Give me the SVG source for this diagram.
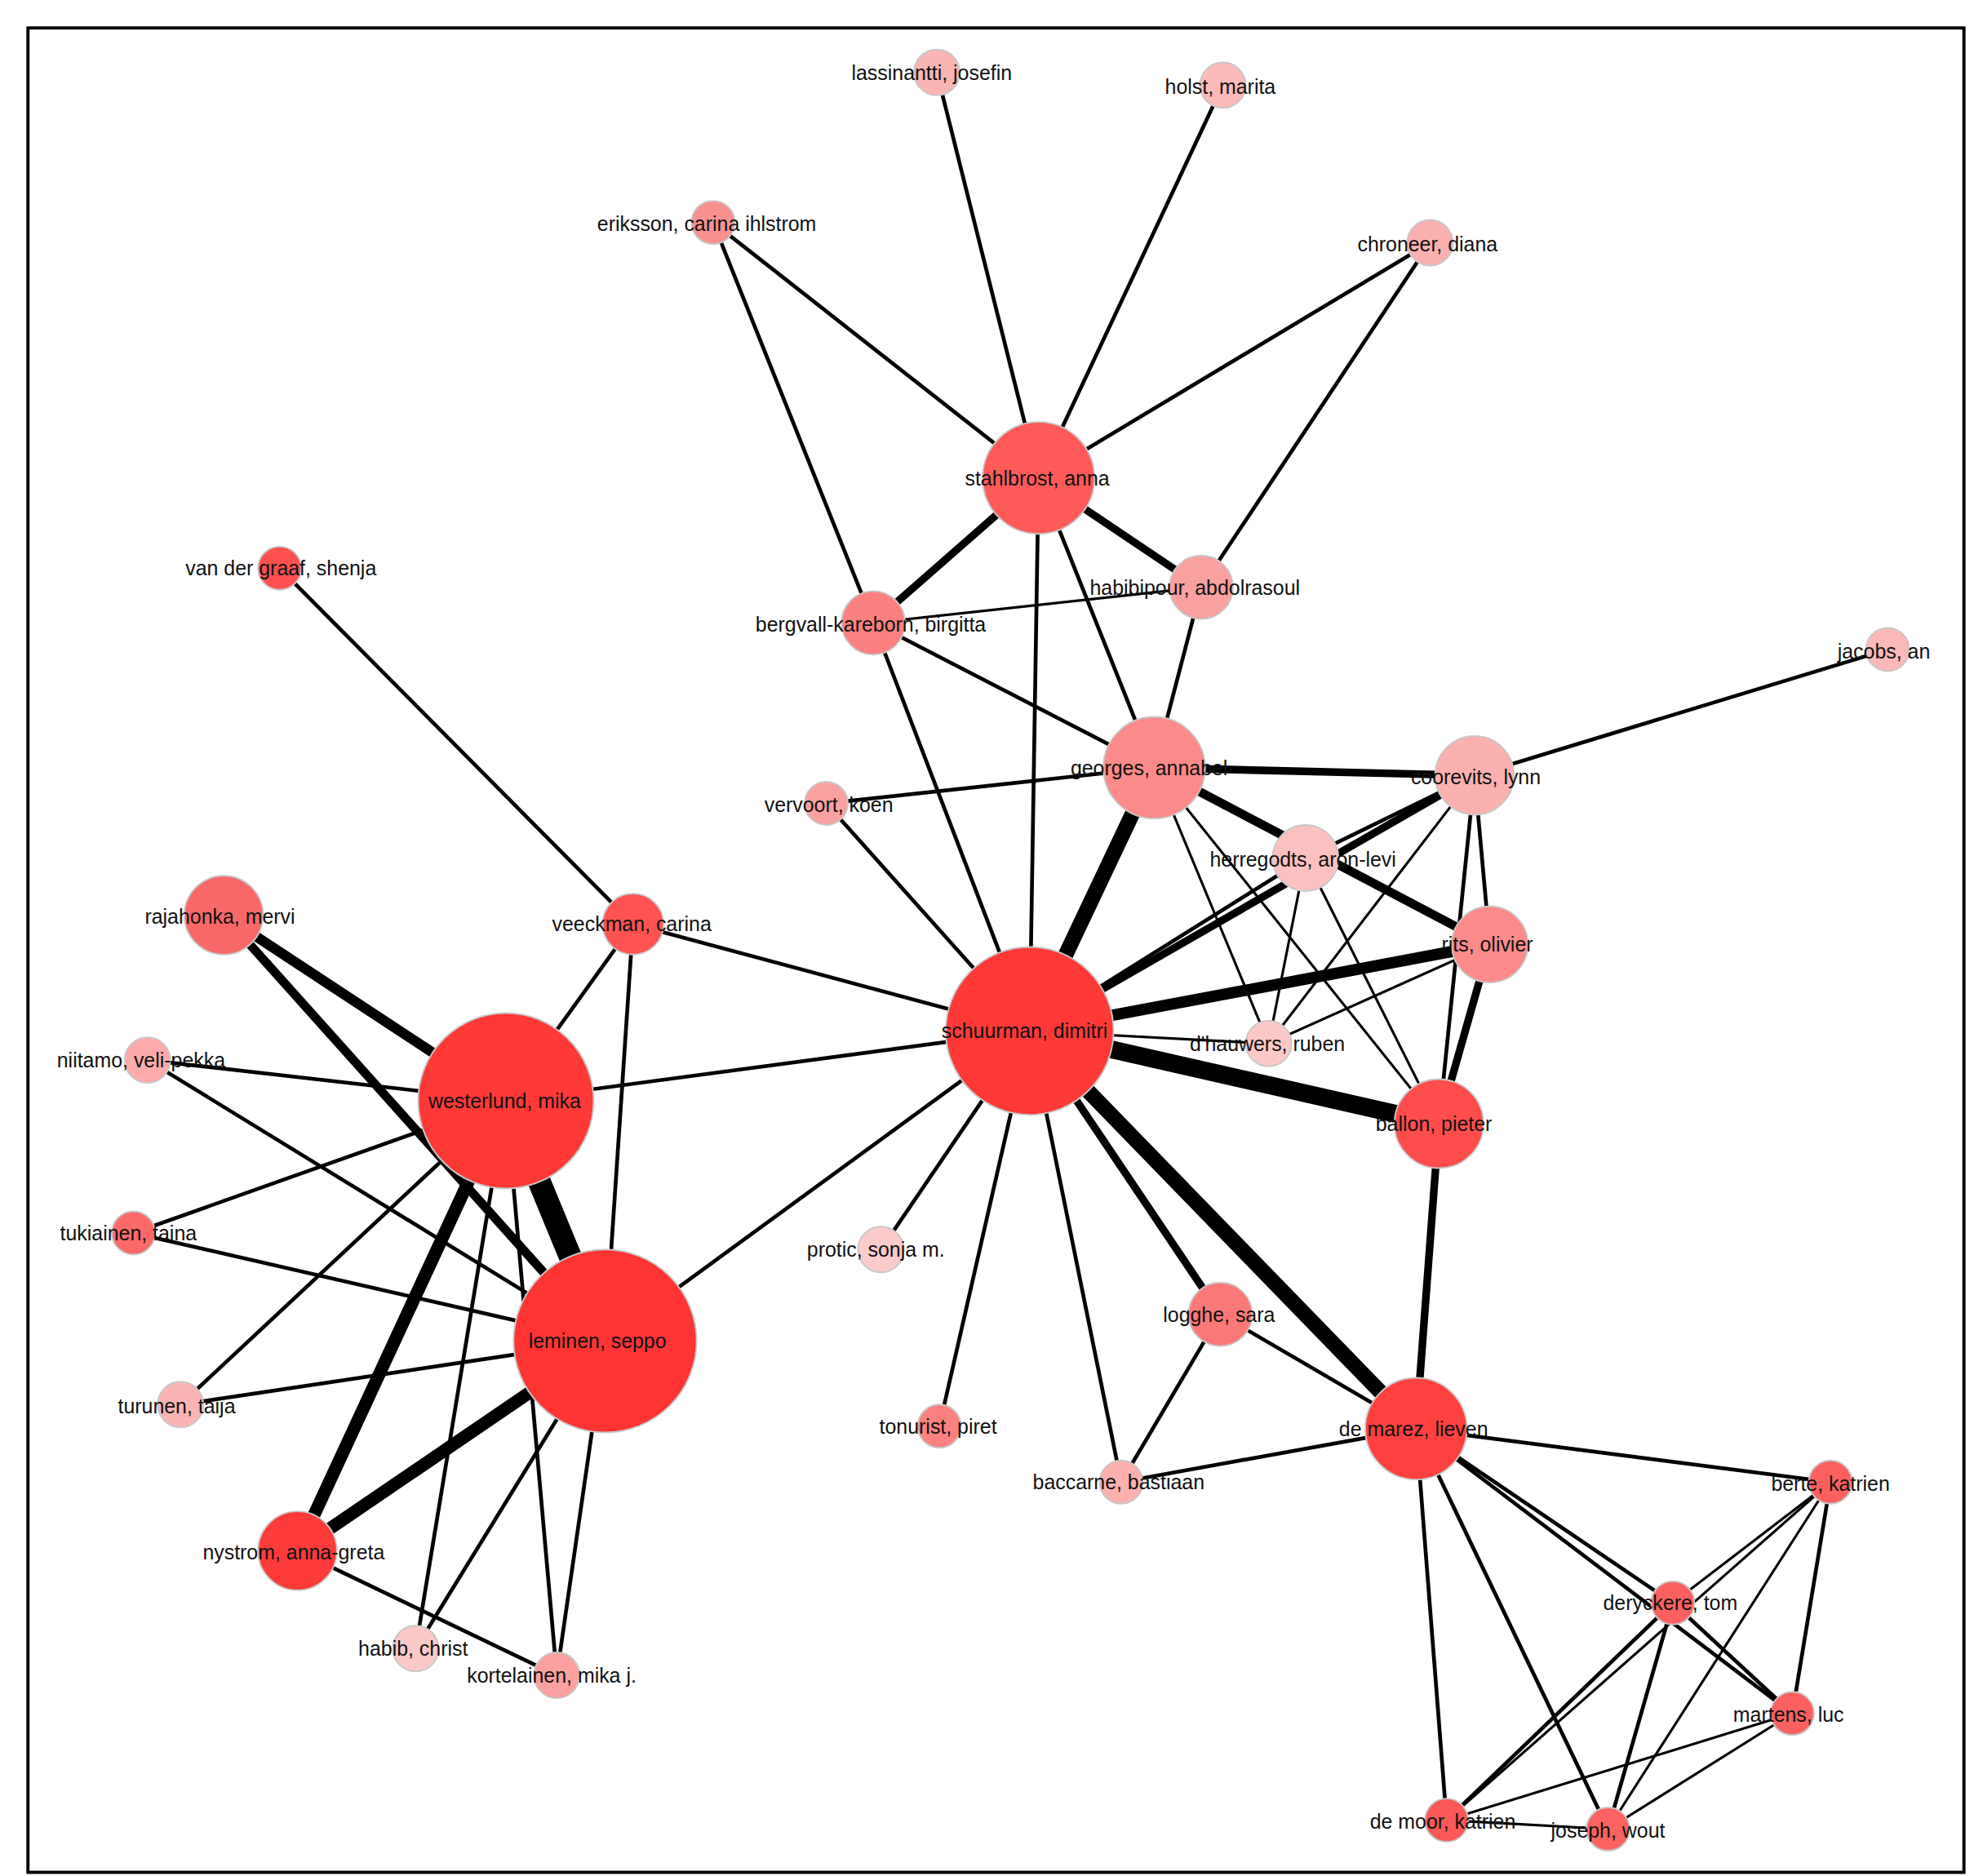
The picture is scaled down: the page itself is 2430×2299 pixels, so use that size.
<svg xmlns="http://www.w3.org/2000/svg" width="2430" height="2299" viewBox="0 0 2430 2299">
<style>
circle{stroke:#c8c8c8;stroke-width:1.2}
text{font-family:"Liberation Sans",Arial,sans-serif;font-size:16px;fill:#111;text-anchor:middle;dominant-baseline:central}
#edges line{stroke:#000;stroke-linecap:butt}
</style>
<rect width="2430" height="2299" fill="#fff"/>
<g transform="scale(1.5577)">
<rect x="22" y="22" width="1523" height="1451" fill="none" stroke="#000" stroke-width="2.5"/>
<g id="edges">
<line x1="817" y1="376" x2="737" y2="57" stroke-width="3"/>
<line x1="817" y1="376" x2="962" y2="67" stroke-width="3"/>
<line x1="817" y1="376" x2="561" y2="175" stroke-width="3"/>
<line x1="817" y1="376" x2="1125" y2="191" stroke-width="3"/>
<line x1="817" y1="376" x2="945" y2="462" stroke-width="6"/>
<line x1="817" y1="376" x2="687" y2="490" stroke-width="6"/>
<line x1="817" y1="376" x2="810" y2="811" stroke-width="3"/>
<line x1="817" y1="376" x2="908" y2="604" stroke-width="3"/>
<line x1="561" y1="175" x2="687" y2="490" stroke-width="3"/>
<line x1="1125" y1="191" x2="945" y2="462" stroke-width="3"/>
<line x1="945" y1="462" x2="687" y2="490" stroke-width="2"/>
<line x1="945" y1="462" x2="908" y2="604" stroke-width="3"/>
<line x1="687" y1="490" x2="908" y2="604" stroke-width="3"/>
<line x1="687" y1="490" x2="810" y2="811" stroke-width="3"/>
<line x1="220" y1="447" x2="498" y2="727" stroke-width="3"/>
<line x1="1485" y1="511" x2="1160" y2="610" stroke-width="3"/>
<line x1="908" y1="604" x2="1160" y2="610" stroke-width="6"/>
<line x1="908" y1="604" x2="650" y2="632" stroke-width="3"/>
<line x1="908" y1="604" x2="810" y2="811" stroke-width="12"/>
<line x1="908" y1="604" x2="1172" y2="743" stroke-width="7"/>
<line x1="908" y1="604" x2="1132" y2="884" stroke-width="2"/>
<line x1="908" y1="604" x2="998" y2="821" stroke-width="2"/>
<line x1="1160" y1="610" x2="1027" y2="675" stroke-width="3"/>
<line x1="1160" y1="610" x2="810" y2="811" stroke-width="6"/>
<line x1="1160" y1="610" x2="1172" y2="743" stroke-width="3"/>
<line x1="1160" y1="610" x2="1132" y2="884" stroke-width="3"/>
<line x1="1160" y1="610" x2="998" y2="821" stroke-width="2"/>
<line x1="1027" y1="675" x2="810" y2="811" stroke-width="3"/>
<line x1="1027" y1="675" x2="998" y2="821" stroke-width="2"/>
<line x1="1027" y1="675" x2="1132" y2="884" stroke-width="2"/>
<line x1="1172" y1="743" x2="810" y2="811" stroke-width="9"/>
<line x1="1172" y1="743" x2="1132" y2="884" stroke-width="6"/>
<line x1="1172" y1="743" x2="998" y2="821" stroke-width="2"/>
<line x1="810" y1="811" x2="998" y2="821" stroke-width="2"/>
<line x1="810" y1="811" x2="1132" y2="884" stroke-width="14"/>
<line x1="810" y1="811" x2="650" y2="632" stroke-width="3"/>
<line x1="810" y1="811" x2="498" y2="727" stroke-width="3"/>
<line x1="810" y1="811" x2="398" y2="866" stroke-width="3"/>
<line x1="810" y1="811" x2="476" y2="1055" stroke-width="3"/>
<line x1="810" y1="811" x2="693" y2="983" stroke-width="3"/>
<line x1="810" y1="811" x2="739" y2="1122" stroke-width="3"/>
<line x1="810" y1="811" x2="882" y2="1166" stroke-width="3"/>
<line x1="810" y1="811" x2="960" y2="1034" stroke-width="6"/>
<line x1="810" y1="811" x2="1114" y2="1124" stroke-width="12"/>
<line x1="1132" y1="884" x2="1114" y2="1124" stroke-width="6"/>
<line x1="960" y1="1034" x2="1114" y2="1124" stroke-width="3"/>
<line x1="960" y1="1034" x2="882" y2="1166" stroke-width="3"/>
<line x1="882" y1="1166" x2="1114" y2="1124" stroke-width="3"/>
<line x1="1114" y1="1124" x2="1440" y2="1166" stroke-width="3"/>
<line x1="1114" y1="1124" x2="1316" y2="1261" stroke-width="3"/>
<line x1="1114" y1="1124" x2="1410" y2="1348" stroke-width="3"/>
<line x1="1114" y1="1124" x2="1138" y2="1432" stroke-width="3"/>
<line x1="1114" y1="1124" x2="1265" y2="1439" stroke-width="3"/>
<line x1="1440" y1="1166" x2="1316" y2="1261" stroke-width="2"/>
<line x1="1440" y1="1166" x2="1138" y2="1432" stroke-width="2"/>
<line x1="1440" y1="1166" x2="1410" y2="1348" stroke-width="3"/>
<line x1="1440" y1="1166" x2="1265" y2="1439" stroke-width="2"/>
<line x1="1316" y1="1261" x2="1410" y2="1348" stroke-width="3"/>
<line x1="1316" y1="1261" x2="1138" y2="1432" stroke-width="3"/>
<line x1="1316" y1="1261" x2="1265" y2="1439" stroke-width="3"/>
<line x1="1410" y1="1348" x2="1138" y2="1432" stroke-width="2"/>
<line x1="1410" y1="1348" x2="1265" y2="1439" stroke-width="2"/>
<line x1="1138" y1="1432" x2="1265" y2="1439" stroke-width="2"/>
<line x1="176" y1="720" x2="398" y2="866" stroke-width="8"/>
<line x1="176" y1="720" x2="476" y2="1055" stroke-width="7"/>
<line x1="398" y1="866" x2="476" y2="1055" stroke-width="18"/>
<line x1="398" y1="866" x2="498" y2="727" stroke-width="3"/>
<line x1="398" y1="866" x2="116" y2="834" stroke-width="3"/>
<line x1="398" y1="866" x2="105" y2="970" stroke-width="3"/>
<line x1="398" y1="866" x2="142" y2="1105" stroke-width="3"/>
<line x1="398" y1="866" x2="234" y2="1220" stroke-width="10"/>
<line x1="398" y1="866" x2="327" y2="1297" stroke-width="3"/>
<line x1="398" y1="866" x2="438" y2="1318" stroke-width="3"/>
<line x1="476" y1="1055" x2="498" y2="727" stroke-width="3"/>
<line x1="476" y1="1055" x2="116" y2="834" stroke-width="3"/>
<line x1="476" y1="1055" x2="105" y2="970" stroke-width="3"/>
<line x1="476" y1="1055" x2="142" y2="1105" stroke-width="3"/>
<line x1="476" y1="1055" x2="234" y2="1220" stroke-width="10"/>
<line x1="476" y1="1055" x2="327" y2="1297" stroke-width="3"/>
<line x1="476" y1="1055" x2="438" y2="1318" stroke-width="3"/>
<line x1="234" y1="1220" x2="438" y2="1318" stroke-width="3"/>
</g>
<g id="n-lassinantti"><circle cx="737" cy="57" r="18" fill="#f9b4b4"/><text x="733" y="57">lassinantti, josefin</text></g>
<g id="n-holst"><circle cx="962" cy="67" r="18" fill="#fbbaba"/><text x="960" y="68">holst, marita</text></g>
<g id="n-eriksson"><circle cx="561" cy="175" r="17" fill="#f99090"/><text x="556" y="176">eriksson, carina ihlstrom</text></g>
<g id="n-chroneer"><circle cx="1125" cy="191" r="18" fill="#fbb0b0"/><text x="1123" y="192">chroneer, diana</text></g>
<g id="n-stahlbrost"><circle cx="817" cy="376" r="44" fill="#ff5a5a"/><text x="816" y="376">stahlbrost, anna</text></g>
<g id="n-vandergraaf"><circle cx="220" cy="447" r="17" fill="#ff5050"/><text x="221" y="447">van der graaf, shenja</text></g>
<g id="n-habibipour"><circle cx="945" cy="462" r="25" fill="#f9a0a0"/><text x="940" y="462">habibipour, abdolrasoul</text></g>
<g id="n-bergvall"><circle cx="687" cy="490" r="25" fill="#fb8080"/><text x="685" y="491">bergvall-kareborn, birgitta</text></g>
<g id="n-jacobs"><circle cx="1485" cy="511" r="17" fill="#fbb8b8"/><text x="1482" y="512">jacobs, an</text></g>
<g id="n-georges"><circle cx="908" cy="604" r="40" fill="#fb8a8a"/><text x="904" y="604">georges, annabel</text></g>
<g id="n-coorevits"><circle cx="1160" cy="610" r="31" fill="#fbb0b0"/><text x="1161" y="611">coorevits, lynn</text></g>
<g id="n-vervoort"><circle cx="650" cy="632" r="17" fill="#f9a0a0"/><text x="652" y="633">vervoort, koen</text></g>
<g id="n-herregodts"><circle cx="1027" cy="675" r="26" fill="#fbc0c0"/><text x="1025" y="676">herregodts, aron-levi</text></g>
<g id="n-rajahonka"><circle cx="176" cy="720" r="31" fill="#f86868"/><text x="173" y="721">rajahonka, mervi</text></g>
<g id="n-veeckman"><circle cx="498" cy="727" r="24" fill="#ff5252"/><text x="497" y="727">veeckman, carina</text></g>
<g id="n-rits"><circle cx="1172" cy="743" r="30" fill="#fb8a8a"/><text x="1170" y="743">rits, olivier</text></g>
<g id="n-schuurman"><circle cx="810" cy="811" r="66" fill="#ff3838"/><text x="806" y="811">schuurman, dimitri</text></g>
<g id="n-niitamo"><circle cx="116" cy="834" r="18" fill="#fbabab"/><text x="111" y="834">niitamo, veli-pekka</text></g>
<g id="n-dhauwers"><circle cx="998" cy="821" r="18" fill="#fbc8c8"/><text x="997" y="821">d'hauwers, ruben</text></g>
<g id="n-westerlund"><circle cx="398" cy="866" r="69" fill="#ff3838"/><text x="397" y="866">westerlund, mika</text></g>
<g id="n-ballon"><circle cx="1132" cy="884" r="35" fill="#ff4c4c"/><text x="1128" y="884">ballon, pieter</text></g>
<g id="n-tukiainen"><circle cx="105" cy="970" r="17" fill="#fa6a6a"/><text x="101" y="970">tukiainen, taina</text></g>
<g id="n-protic"><circle cx="693" cy="983" r="18" fill="#fbcaca"/><text x="689" y="983">protic, sonja m.</text></g>
<g id="n-logghe"><circle cx="960" cy="1034" r="25" fill="#fb7878"/><text x="959" y="1034">logghe, sara</text></g>
<g id="n-leminen"><circle cx="476" cy="1055" r="72" fill="#ff3434"/><text x="470" y="1055">leminen, seppo</text></g>
<g id="n-turunen"><circle cx="142" cy="1105" r="18" fill="#fbb4b4"/><text x="139" y="1106">turunen, taija</text></g>
<g id="n-tonurist"><circle cx="739" cy="1122" r="17" fill="#fb8080"/><text x="738" y="1122">tonurist, piret</text></g>
<g id="n-demarez"><circle cx="1114" cy="1124" r="40" fill="#ff4040"/><text x="1112" y="1124">de marez, lieven</text></g>
<g id="n-baccarne"><circle cx="882" cy="1166" r="17" fill="#fbb0b0"/><text x="880" y="1166">baccarne, bastiaan</text></g>
<g id="n-berte"><circle cx="1440" cy="1166" r="17" fill="#fb6060"/><text x="1440" y="1167">berte, katrien</text></g>
<g id="n-nystrom"><circle cx="234" cy="1220" r="31" fill="#ff3a3a"/><text x="231" y="1221">nystrom, anna-greta</text></g>
<g id="n-deryckere"><circle cx="1316" cy="1261" r="17" fill="#fb6060"/><text x="1314" y="1261">deryckere, tom</text></g>
<g id="n-habib"><circle cx="327" cy="1297" r="18" fill="#fbc8c8"/><text x="325" y="1297">habib, christ</text></g>
<g id="n-kortelainen"><circle cx="438" cy="1318" r="18" fill="#fba0a0"/><text x="434" y="1318">kortelainen, mika j.</text></g>
<g id="n-martens"><circle cx="1410" cy="1348" r="17" fill="#fb6060"/><text x="1407" y="1349">martens, luc</text></g>
<g id="n-demoor"><circle cx="1138" cy="1432" r="17" fill="#fb5858"/><text x="1135" y="1433">de moor, katrien</text></g>
<g id="n-joseph"><circle cx="1265" cy="1439" r="17" fill="#fb6262"/><text x="1265" y="1440">joseph, wout</text></g>
</g>
</svg>
